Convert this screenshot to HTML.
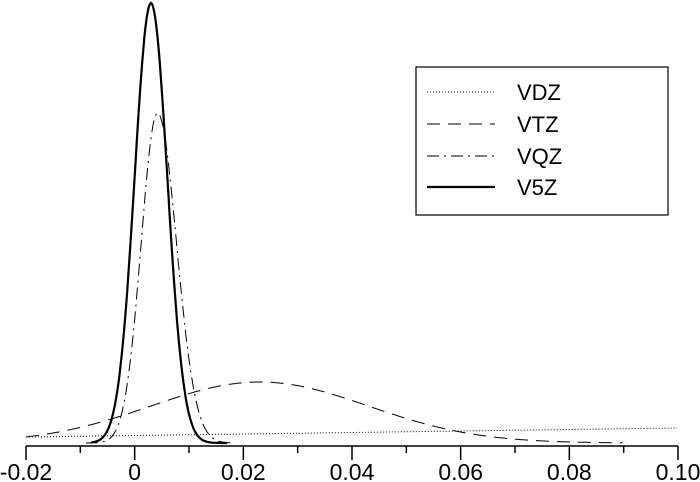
<!DOCTYPE html>
<html><head><style>body{margin:0;background:#fff}svg{display:block}text{font-family:"Liberation Sans",sans-serif}</style></head>
<body>
<svg id="s" width="700" height="482" viewBox="0 0 700 482">
<g stroke="#000" stroke-width="1.5" fill="none">
<line x1="26" y1="446" x2="678" y2="446"/>
</g>
<g id="ticks" stroke="#000" stroke-width="1.5"></g>
<g font-size="23" text-anchor="middle" fill="#000">
<text x="26" y="480">-0.02</text><text x="134.7" y="480">0</text><text x="243.3" y="480">0.02</text>
<text x="352" y="480">0.04</text><text x="460.7" y="480">0.06</text><text x="569.3" y="480">0.08</text><text x="678" y="480">0.10</text>
</g>
<g id="curves" fill="none" stroke="#000"></g>
<rect x="416" y="67" width="252" height="148" fill="#fff" stroke="#000" stroke-width="1.2"/>
<g stroke="#000">
<line x1="427" y1="92" x2="495" y2="92" stroke-width="1" stroke-dasharray="1,2"/>
<line x1="427" y1="124" x2="495" y2="124" stroke-width="1" stroke-dasharray="13,8"/>
<line x1="427" y1="156" x2="495" y2="156" stroke-width="1" stroke-dasharray="12,5,2,5"/>
<line x1="427" y1="187" x2="495" y2="187" stroke-width="2.2"/>
</g>
<g font-size="22" fill="#000">
<text x="517" y="100">VDZ</text><text x="517" y="132">VTZ</text><text x="517" y="164">VQZ</text><text x="517" y="195">V5Z</text>
</g>
</svg>
<script>
var X=v=>26+(v+0.02)/0.12*652, B=443;
var t='';for(var i=0;i<=12;i++){var v=-0.02+i*0.01,x=X(v);t+='<line x1="'+x+'" y1="446" x2="'+x+'" y2="'+(446+(i%2?7:14))+'"/>';}
document.getElementById('ticks').innerHTML=t;
function p(f,a,b){a=a||-0.02;b=b||0.1;var d='';for(var v=a;v<=b;v+=0.0002){d+=(d?'L':'M')+X(v).toFixed(1)+','+f(v).toFixed(1);}return d;}
var g=(v,m,s,a)=>a*Math.exp(-(v-m)*(v-m)/(2*s*s));
var c='';
c+='<path d="'+p(v=>437-(v+0.02)/0.12*9)+'" stroke-width="1" stroke-dasharray="1,2"/>';
c+='<path d="'+p(v=>B-g(v,0.023,0.02,61),-0.02,0.09)+'" stroke-width="1" stroke-dasharray="13,8"/>';
c+='<path d="'+p(v=>B-g(v,0.0042,v<0.0042?0.003:0.0035,330),-0.009,0.018)+'" stroke-width="1" stroke-dasharray="12,5,2,5"/>';
c+='<path d="'+p(v=>B-g(v,0.003,0.003,440),-0.008,0.017)+'" stroke-width="2.2"/>';
document.getElementById('curves').innerHTML=c;
</script>
</body></html>
